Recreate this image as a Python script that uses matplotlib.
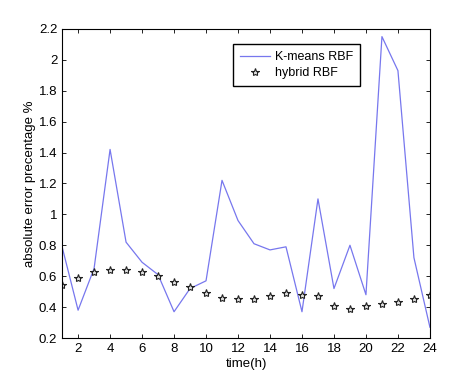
import matplotlib
matplotlib.use("Agg")
import matplotlib.pyplot as plt
from matplotlib.ticker import FormatStrFormatter

hours = list(range(1, 25))

kmeans_rbf = [
    0.79, 0.38, 0.65, 1.42, 0.82, 0.69, 0.61, 0.37, 0.52, 0.57, 1.22, 0.96,
    0.81, 0.77, 0.79, 0.37, 1.10, 0.52, 0.80, 0.48, 2.15, 1.93, 0.72, 0.27,
]

hybrid_rbf = [
    0.54, 0.59, 0.63, 0.64, 0.64, 0.63, 0.60, 0.56, 0.53, 0.49, 0.46, 0.45,
    0.45, 0.47, 0.49, 0.48, 0.47, 0.41, 0.39, 0.41, 0.42, 0.43, 0.45, 0.48,
]

plt.rcParams["font.family"] = ["Liberation Sans", "DejaVu Sans"]

fig = plt.figure(figsize=(4.74, 3.8), dpi=100)
ax = fig.add_axes([0.131, 0.1105, 0.776, 0.8135])

ax.plot(
    hours,
    kmeans_rbf,
    color="#7777ee",
    linewidth=0.9,
    label="K-means RBF"
)

ax.plot(
    hours,
    hybrid_rbf,
    linestyle="none",
    marker="*",
    markersize=6,
    markerfacecolor="#dddddd",
    markeredgecolor="#222222",
    markeredgewidth=0.8,
    label="hybrid RBF"
)

ax.set_xlim(1, 24)
ax.set_ylim(0.2, 2.2)
ax.set_xticks(range(2, 25, 2))
ax.set_yticks([0.2 + 0.2 * i for i in range(11)])
ax.yaxis.set_major_formatter(FormatStrFormatter("%g"))

ax.tick_params(
    direction="in",
    top=True,
    right=True,
    labelsize=9.5,
    length=3,
    width=0.6
)

for spine in ax.spines.values():
    spine.set_linewidth(0.8)

ax.set_xlabel("time(h)", fontsize=9.5, labelpad=2)
ax.set_ylabel("absolute error precentage %", fontsize=9.5, labelpad=2)

leg = ax.legend(
    loc="upper right",
    bbox_to_anchor=(0.81, 0.951),
    borderaxespad=0,
    fancybox=False,
    edgecolor="black",
    framealpha=1,
    fontsize=9,
    handlelength=2.4,
    handletextpad=0.4,
    labelspacing=0.35,
    borderpad=0.55
)
leg.get_frame().set_linewidth(1.0)

fig.savefig("out.png", dpi=100)
